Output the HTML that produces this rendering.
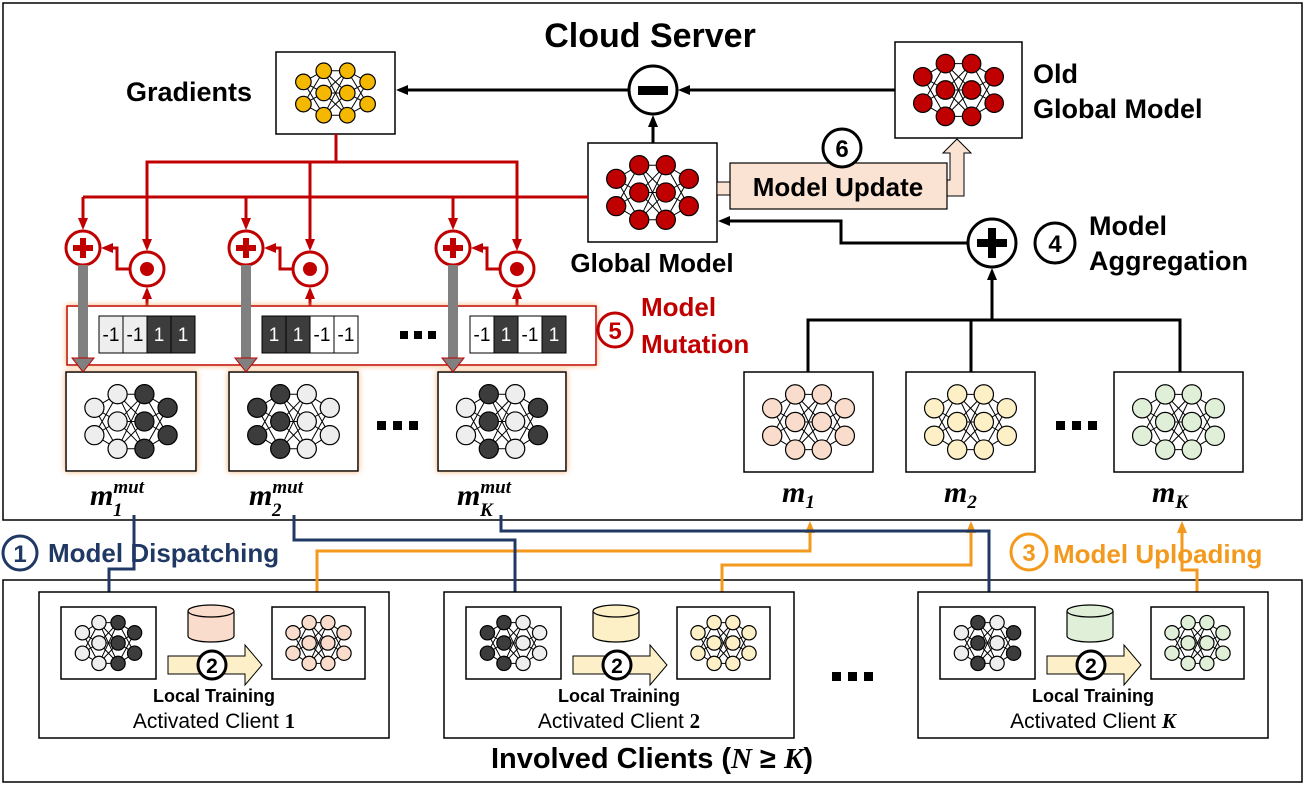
<!DOCTYPE html>
<html><head><meta charset="utf-8"><style>
html,body{margin:0;padding:0;background:#fff;}
svg{display:block;}
text{font-family:"Liberation Sans",Arial,sans-serif;}
.b{font-weight:bold;}
.m{font-family:"Liberation Serif","DejaVu Serif",serif;font-weight:bold;font-style:italic;}
</style></head><body>
<svg id="s" width="1305" height="787" viewBox="0 0 1305 787" xmlns="http://www.w3.org/2000/svg">
<defs>
<marker id="ak" markerWidth="12" markerHeight="10" refX="9" refY="5" orient="auto" markerUnits="userSpaceOnUse"><path d="M0,0 L12,5 L0,10 z" fill="#000"/></marker>
<marker id="ar" markerWidth="12" markerHeight="10" refX="9" refY="5" orient="auto" markerUnits="userSpaceOnUse"><path d="M0,0 L12,5 L0,10 z" fill="#c00000"/></marker>
<marker id="an" markerWidth="12" markerHeight="10" refX="9" refY="5" orient="auto" markerUnits="userSpaceOnUse"><path d="M0,0 L12,5 L0,10 z" fill="#1f3864"/></marker>
<marker id="ao" markerWidth="12" markerHeight="10" refX="9" refY="5" orient="auto" markerUnits="userSpaceOnUse"><path d="M0,0 L12,5 L0,10 z" fill="#f39a1e"/></marker>
<filter id="glow" x="-10%" y="-10%" width="120%" height="120%"><feDropShadow dx="0" dy="0" stdDeviation="3" flood-color="#f4a460" flood-opacity="0.9"/></filter>
</defs>
<rect x="3" y="3" width="1299" height="517" fill="none" stroke="#000" stroke-width="1.5"/>
<rect x="3" y="580" width="1299" height="202" fill="none" stroke="#000" stroke-width="1.5"/>
<text x="650" y="47" class="b" font-size="34" text-anchor="middle">Cloud Server</text>

<rect x="276" y="52" width="119" height="82" fill="#fff" stroke="#000" stroke-width="1.5"/>
<text x="126" y="101" class="b" font-size="27">Gradients</text>
<rect x="895" y="42" width="127" height="96" fill="#fff" stroke="#000" stroke-width="1.5"/>
<text x="1033" y="83" class="b" font-size="27">Old</text>
<text x="1033" y="118" class="b" font-size="27">Global Model</text>
<rect x="588" y="143" width="129" height="99" fill="#fff" stroke="#000" stroke-width="1.5"/>
<text x="652" y="272" class="b" font-size="26" text-anchor="middle">Global Model</text>

<line x1="895" y1="90" x2="681" y2="90" stroke="#000" stroke-width="3" marker-end="url(#ak)"/>
<line x1="629" y1="90" x2="399" y2="90" stroke="#000" stroke-width="3" marker-end="url(#ak)"/>
<line x1="653" y1="143" x2="653" y2="118" stroke="#000" stroke-width="3" marker-end="url(#ak)"/>
<circle cx="653" cy="90" r="24" fill="#fff" stroke="#000" stroke-width="3"/>
<rect x="638" y="86" width="30" height="9" fill="#000"/>

<rect x="717" y="182" width="14" height="13" fill="#fbe3d3" stroke="#000" stroke-width="1"/>
<path d="M947,196 L964,196 L964,153 L971,153 L957,139 L943,153 L950,153 L950,180 L947,180 z" fill="#fbe3d3" stroke="#000" stroke-width="1"/>
<rect x="730" y="163" width="217" height="46" fill="#fbe3d3" stroke="#000" stroke-width="1.2"/>
<text x="838" y="196" class="b" font-size="26" text-anchor="middle">Model Update</text>
<circle cx="842" cy="148" r="19" fill="#fff" stroke="#000" stroke-width="3"/>
<text x="842" y="157" class="b" font-size="24" text-anchor="middle">6</text>

<polyline points="968,243 841,243 841,221 721,221" fill="none" stroke="#000" stroke-width="3" marker-end="url(#ak)"/>
<polyline points="808,372 808,320 1180,320 1180,372" fill="none" stroke="#000" stroke-width="3"/>
<line x1="971" y1="320" x2="971" y2="372" stroke="#000" stroke-width="3"/>
<line x1="992" y1="320" x2="992" y2="271" stroke="#000" stroke-width="3" marker-end="url(#ak)"/>
<circle cx="992" cy="243" r="24" fill="#fff" stroke="#000" stroke-width="3"/>
<rect x="977" y="239" width="30" height="8" fill="#000"/><rect x="988" y="228" width="8" height="30" fill="#000"/>
<circle cx="1055" cy="243" r="20" fill="#fff" stroke="#000" stroke-width="3"/>
<text x="1055" y="252" class="b" font-size="24" text-anchor="middle">4</text>
<text x="1089" y="235" class="b" font-size="27">Model</text>
<text x="1089" y="270" class="b" font-size="27">Aggregation</text>

<g stroke="#c00000" stroke-width="3" fill="none">
<line x1="336" y1="134" x2="336" y2="162"/>
<polyline points="147,248 147,162 517,162 517,248"/>
<line x1="310" y1="162" x2="310" y2="248"/>
<polyline points="588,197 83,197"/>
<line x1="83" y1="197" x2="83" y2="227" marker-end="url(#ar)"/>
<line x1="246" y1="197" x2="246" y2="227" marker-end="url(#ar)"/>
<line x1="453" y1="197" x2="453" y2="227" marker-end="url(#ar)"/>
<line x1="147" y1="162" x2="147" y2="248" marker-end="url(#ar)"/>
<line x1="310" y1="162" x2="310" y2="248" marker-end="url(#ar)"/>
<line x1="517" y1="162" x2="517" y2="248" marker-end="url(#ar)"/>
</g>
<g id="ops"></g>

<rect x="67" y="306" width="529" height="59" fill="#fff" stroke="#c00000" stroke-width="1.5" filter="url(#glow)"/>
<g id="cells"></g>
<g fill="#000"><rect x="400" y="331" width="8" height="8"/><rect x="414" y="331" width="8" height="8"/><rect x="428" y="331" width="8" height="8"/></g>
<circle cx="615" cy="330" r="17" fill="#fff" stroke="#c00000" stroke-width="3"/>
<text x="615" y="339" class="b" font-size="24" text-anchor="middle" fill="#c00000">5</text>
<text x="641" y="316" class="b" font-size="26" fill="#c00000">Model</text>
<text x="641" y="353" class="b" font-size="26" fill="#c00000">Mutation</text>

<rect x="66" y="372" width="130" height="99" fill="#fff" stroke="#000" stroke-width="1.5" filter="url(#glow)"/>
<rect x="229" y="372" width="129" height="99" fill="#fff" stroke="#000" stroke-width="1.5" filter="url(#glow)"/>
<rect x="438" y="372" width="128" height="99" fill="#fff" stroke="#000" stroke-width="1.5" filter="url(#glow)"/>
<rect x="744" y="372" width="129" height="100" fill="#fff" stroke="#000" stroke-width="1.5"/>
<rect x="906" y="372" width="129" height="100" fill="#fff" stroke="#000" stroke-width="1.5"/>
<rect x="1114" y="372" width="129" height="100" fill="#fff" stroke="#000" stroke-width="1.5"/>
<g id="bars"></g>
<g fill="#000"><rect x="377" y="421" width="9" height="9"/><rect x="393" y="421" width="9" height="9"/><rect x="409" y="421" width="9" height="9"/>
<rect x="1056" y="421" width="9" height="9"/><rect x="1072" y="421" width="9" height="9"/><rect x="1088" y="421" width="9" height="9"/></g>

<text x="90" y="505" class="m" font-size="30">m<tspan font-size="19" dy="-12">mut</tspan></text><text x="113" y="516" class="m" font-size="19">1</text>
<text x="249" y="505" class="m" font-size="30">m<tspan font-size="19" dy="-12">mut</tspan></text><text x="272" y="516" class="m" font-size="19">2</text>
<text x="457" y="505" class="m" font-size="30">m<tspan font-size="19" dy="-12">mut</tspan></text><text x="480" y="516" class="m" font-size="19">K</text>
<text x="782" y="502" class="m" font-size="30">m<tspan font-size="19" dy="6">1</tspan></text>
<text x="944" y="502" class="m" font-size="30">m<tspan font-size="19" dy="6">2</tspan></text>
<text x="1152" y="502" class="m" font-size="30">m<tspan font-size="19" dy="6">K</tspan></text>

<g fill="none" stroke-width="3">
<polyline points="317,607 317,551 810,551 810,524" stroke="#f39a1e" marker-end="url(#ao)"/>
<polyline points="722,607 722,565 971,565 971,524" stroke="#f39a1e" marker-end="url(#ao)"/>
<polyline points="1197,607 1197,570 1182,570 1182,524" stroke="#f39a1e" marker-end="url(#ao)"/>
<polyline points="134,515 134,569 109,569 109,603" stroke="#1f3864" marker-end="url(#an)"/>
<polyline points="294,515 294,540 515,540 515,603" stroke="#1f3864" marker-end="url(#an)"/>
<polyline points="501,515 501,531 989,531 989,603" stroke="#1f3864" marker-end="url(#an)"/>
</g>
<circle cx="20" cy="553" r="17" fill="#fff" stroke="#1f3864" stroke-width="3"/>
<text x="20" y="562" class="b" font-size="24" text-anchor="middle" fill="#1f3864">1</text>
<text x="48" y="562" class="b" font-size="26" fill="#1f3864">Model Dispatching</text>
<circle cx="1029" cy="552" r="18" fill="#fff" stroke="#f39a1e" stroke-width="3"/>
<text x="1029" y="561" class="b" font-size="24" text-anchor="middle" fill="#f39a1e">3</text>
<text x="1053" y="563" class="b" font-size="26" fill="#f39a1e">Model Uploading</text>

<g id="clients"></g>
<g fill="#000"><rect x="832" y="672" width="9" height="9"/><rect x="848" y="672" width="9" height="9"/><rect x="864" y="672" width="9" height="9"/></g>
<text x="652" y="768" class="b" font-size="29" text-anchor="middle">Involved Clients (<tspan class="m" font-weight="bold">N</tspan> ≥ <tspan class="m">K</tspan>)</text>
<g id="nets"></g>
</svg>
<script>
var NS="http://www.w3.org/2000/svg";
function el(p,t,a){var e=document.createElementNS(NS,t);for(var k in a)e.setAttribute(k,a[k]);p.appendChild(e);return e;}
var nets=document.getElementById('nets');
function net(x,y,w,h,cols){
  var fx=[.2,.39,.61,.8],outer=[.35,.65],inner=[.2,.5,.8];
  var r=Math.min(w,h)*0.105;
  var pts=[];
  for(var c=0;c<4;c++){var ys=(c==0||c==3)?outer:inner;pts.push(ys.map(function(v){return [x+fx[c]*w,y+v*h];}));}
  for(var c=0;c<3;c++)pts[c].forEach(function(a){pts[c+1].forEach(function(b){el(nets,'line',{x1:a[0],y1:a[1],x2:b[0],y2:b[1],stroke:'#000','stroke-width':1});});});
  for(var c=0;c<4;c++)pts[c].forEach(function(a){el(nets,'circle',{cx:a[0],cy:a[1],r:r,fill:cols[c],stroke:'#000','stroke-width':1.2});});
}
var Y='#f5b800',R='#c00000',L='#eeeeee',D='#3c3c3c',P='#f9dccb',C='#fdf0c6',G='#e0efd8';
net(282,56,107,74,[Y,Y,Y,Y]);
net(899,46,119,88,[R,R,R,R]);
net(592,147,121,91,[R,R,R,R]);
net(70,376,122,91,[L,L,D,D]);
net(233,376,121,91,[D,D,L,L]);
net(442,376,120,91,[L,D,L,D]);
net(748,376,121,92,[P,P,P,P]);
net(910,376,121,92,[C,C,C,C]);
net(1118,376,121,92,[G,G,G,G]);
var ops=document.getElementById('ops');
[[83,147],[246,310],[453,517]].forEach(function(p){
  var px=p[0],dx=p[1];
  el(ops,'polyline',{points:(dx-17)+',269 '+(dx-30)+',269 '+(dx-30)+',248 '+(px+21)+',248',fill:'none',stroke:'#c00000','stroke-width':3,'marker-end':'url(#ar)'});
  el(ops,'line',{x1:dx,y1:306,x2:dx,y2:290,stroke:'#c00000','stroke-width':3,'marker-end':'url(#ar)'});
  el(ops,'circle',{cx:px,cy:248,r:17,fill:'#fff',stroke:'#c00000','stroke-width':3});
  el(ops,'rect',{x:px-10,y:245,width:20,height:6,fill:'#c00000'});
  el(ops,'rect',{x:px-3,y:238,width:6,height:20,fill:'#c00000'});
  el(ops,'circle',{cx:dx,cy:269,r:17,fill:'#fff',stroke:'#c00000','stroke-width':3});
  el(ops,'circle',{cx:dx,cy:269,r:7,fill:'#c00000'});
});
var bars=document.getElementById('bars');
[83,246,453].forEach(function(x){
  el(bars,'rect',{x:x-5,y:265,width:10,height:94,fill:'#808080'});
  el(bars,'path',{d:'M'+(x-11)+',358 L'+(x+11)+',358 L'+x+',372 z',fill:'#808080',stroke:'#c00000','stroke-width':1});
});
var cells=document.getElementById('cells');
[[99,[['-1',L],['-1',L],['1',D],['1',D]]],[262,[['1',D],['1',D],['-1','#fff'],['-1','#fff']]],[470,[['-1','#fff'],['1',D],['-1','#fff'],['1',D]]]].forEach(function(g){
  g[1].forEach(function(c,i){var x=g[0]+i*24;
    el(cells,'rect',{x:x,y:316,width:24,height:37,fill:c[1],stroke:'#000','stroke-width':1});
    var t=el(cells,'text',{x:x+12,y:341,'font-size':19,'text-anchor':'middle',fill:c[1]==D?'#fff':'#000'});t.textContent=c[0];
  });
});
var cl=document.getElementById('clients');
[[0,[L,L,D,D],P,'1'],[405,[D,D,L,L],C,'2'],[879,[L,D,L,D],G,'K']].forEach(function(c){
  var o=c[0];
  el(cl,'rect',{x:39+o,y:592,width:350,height:146,fill:'#fff',stroke:'#000','stroke-width':1.5});
  el(cl,'rect',{x:61+o,y:607,width:95,height:72,fill:'#fff',stroke:'#000','stroke-width':1.5});
  el(cl,'rect',{x:272+o,y:607,width:93,height:72,fill:'#fff',stroke:'#000','stroke-width':1.5});
  net(65+o,609,87,68,c[1]); net(276+o,609,85,68,[c[2],c[2],c[2],c[2]]);
  el(cl,'path',{d:'M'+(188+o)+',611 L'+(188+o)+',636 A23,6 0 0 0 '+(234+o)+',636 L'+(234+o)+',611',fill:c[2],stroke:'#000','stroke-width':1.2});
  el(cl,'ellipse',{cx:211+o,cy:611,rx:23,ry:6,fill:c[2],stroke:'#000','stroke-width':1.2});
  el(cl,'path',{d:'M'+(168+o)+',656 L'+(245+o)+',656 L'+(245+o)+',645 L'+(262+o)+',665 L'+(245+o)+',685 L'+(245+o)+',674 L'+(168+o)+',674 z',fill:'#fdf0c8',stroke:'#000','stroke-width':1});
  el(cl,'circle',{cx:212+o,cy:665,r:14,fill:'#fff',stroke:'#000','stroke-width':3});
  var t=el(cl,'text',{x:212+o,y:673,'font-size':21,'font-weight':'bold','text-anchor':'middle'});t.textContent='2';
  t=el(cl,'text',{x:214+o,y:702,'font-size':18,'font-weight':'bold','text-anchor':'middle'});t.textContent='Local Training';
  t=el(cl,'text',{x:214+o,y:728,'font-size':21,'text-anchor':'middle'});t.textContent='Activated Client ';
  var s=el(t,'tspan',{'font-family':'Liberation Serif,serif','font-weight':'bold','font-style':c[3]=='K'?'italic':'normal'});s.textContent=c[3];
});
</script>
</body></html>
